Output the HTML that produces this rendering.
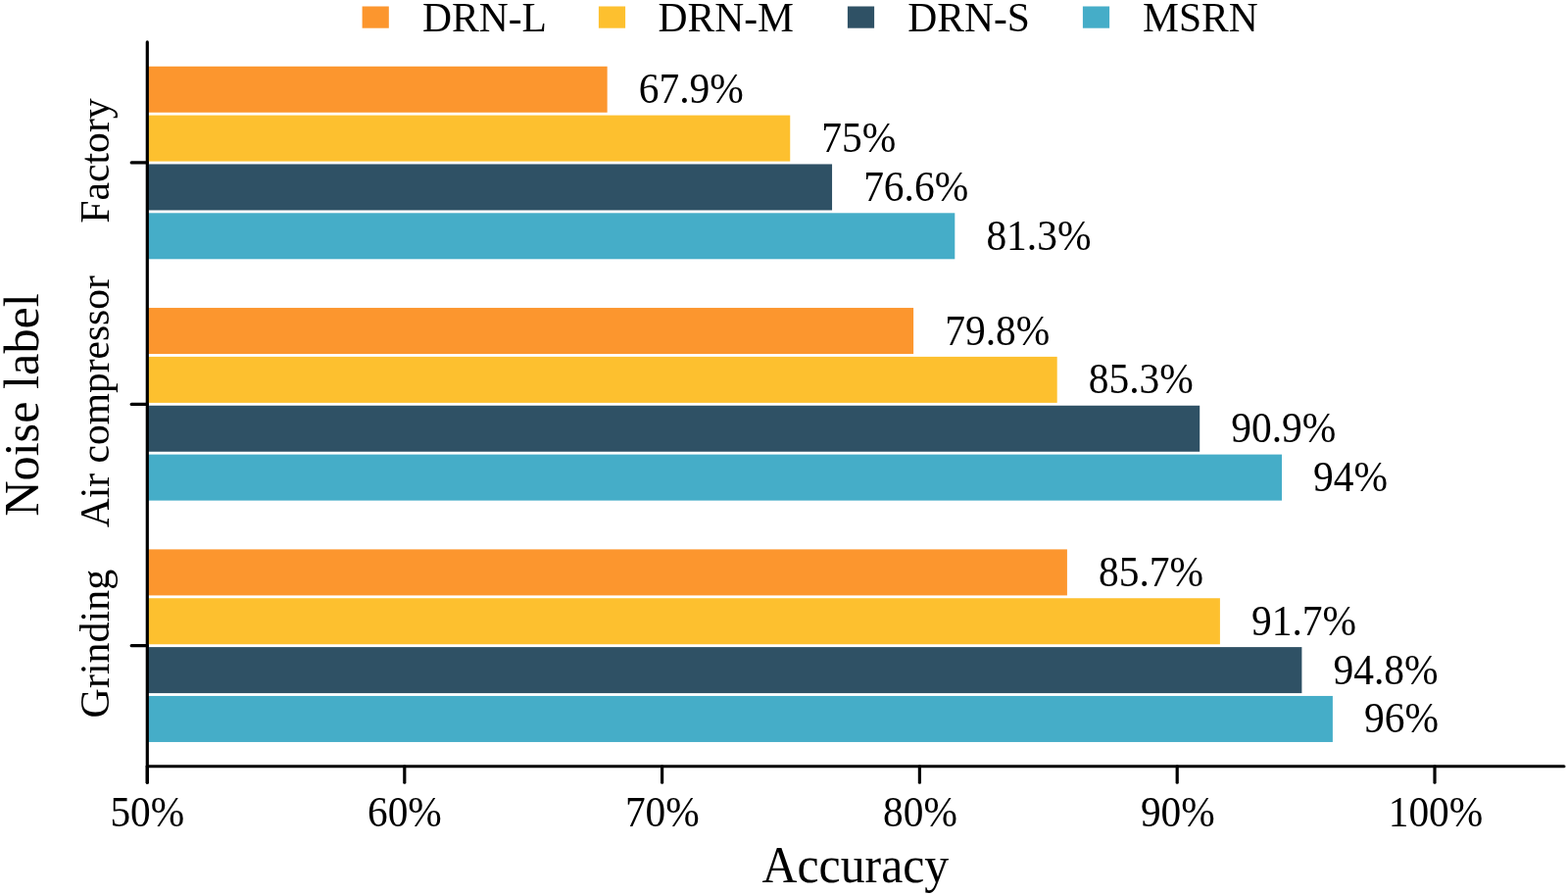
<!DOCTYPE html>
<html><head><meta charset="utf-8"><title>Accuracy by noise label</title>
<style>
html,body{margin:0;padding:0;background:#fff;}
body{width:1600px;height:913px;overflow:hidden;}
svg{display:block;}
text{font-family:"Liberation Serif","Times New Roman",serif;fill:#000;}
</style></head><body>
<svg width="1600" height="913" viewBox="0 0 1600 913">
<rect x="0" y="0" width="1600" height="913" fill="#fff"/>
<rect x="150.0" y="67.75" width="469.65" height="47.0" fill="#FC962E"/>
<text transform="translate(651.75,105.25) scale(0.987,1.05)" font-size="42">67.9%</text>
<rect x="150.0" y="117.60" width="656.25" height="47.0" fill="#FDC02F"/>
<text transform="translate(838.35,155.10) scale(0.987,1.05)" font-size="42">75%</text>
<rect x="150.0" y="167.45" width="699.05" height="47.0" fill="#2F5165"/>
<text transform="translate(881.15,204.95) scale(0.987,1.05)" font-size="42">76.6%</text>
<rect x="150.0" y="217.30" width="824.30" height="47.0" fill="#45ADC8"/>
<text transform="translate(1006.40,254.80) scale(0.987,1.05)" font-size="42">81.3%</text>
<rect x="150.0" y="314.05" width="782.10" height="47.0" fill="#FC962E"/>
<text transform="translate(964.20,351.55) scale(0.987,1.05)" font-size="42">79.8%</text>
<rect x="150.0" y="363.90" width="928.70" height="47.0" fill="#FDC02F"/>
<text transform="translate(1110.80,401.40) scale(0.987,1.05)" font-size="42">85.3%</text>
<rect x="150.0" y="413.75" width="1074.20" height="47.0" fill="#2F5165"/>
<text transform="translate(1256.30,451.25) scale(0.987,1.05)" font-size="42">90.9%</text>
<rect x="150.0" y="463.60" width="1158.00" height="47.0" fill="#45ADC8"/>
<text transform="translate(1340.10,501.10) scale(0.987,1.05)" font-size="42">94%</text>
<rect x="150.0" y="560.40" width="938.90" height="47.0" fill="#FC962E"/>
<text transform="translate(1121.00,597.90) scale(0.987,1.05)" font-size="42">85.7%</text>
<rect x="150.0" y="610.25" width="1094.90" height="47.0" fill="#FDC02F"/>
<text transform="translate(1277.00,647.75) scale(0.987,1.05)" font-size="42">91.7%</text>
<rect x="150.0" y="660.10" width="1178.40" height="47.0" fill="#2F5165"/>
<text transform="translate(1360.50,697.60) scale(0.987,1.05)" font-size="42">94.8%</text>
<rect x="150.0" y="709.95" width="1209.90" height="47.0" fill="#45ADC8"/>
<text transform="translate(1392.00,747.45) scale(0.987,1.05)" font-size="42">96%</text>
<line x1="150.3" y1="42.9" x2="150.3" y2="798.2" stroke="#000" stroke-width="3.2" stroke-linecap="round"/>
<line x1="150.3" y1="781.75" x2="1595.9" y2="781.75" stroke="#000" stroke-width="3.2" stroke-linecap="round"/>
<line x1="150.30" y1="781.75" x2="150.30" y2="798.2" stroke="#000" stroke-width="3.2" stroke-linecap="round"/>
<text transform="translate(150.30,843.0) scale(0.985,1.075)" font-size="42" text-anchor="middle">50%</text>
<line x1="412.80" y1="781.75" x2="412.80" y2="798.2" stroke="#000" stroke-width="3.2" stroke-linecap="round"/>
<text transform="translate(412.90,843.0) scale(0.985,1.075)" font-size="42" text-anchor="middle">60%</text>
<line x1="675.60" y1="781.75" x2="675.60" y2="798.2" stroke="#000" stroke-width="3.2" stroke-linecap="round"/>
<text transform="translate(675.80,843.0) scale(0.985,1.075)" font-size="42" text-anchor="middle">70%</text>
<line x1="938.40" y1="781.75" x2="938.40" y2="798.2" stroke="#000" stroke-width="3.2" stroke-linecap="round"/>
<text transform="translate(939.00,843.0) scale(0.985,1.075)" font-size="42" text-anchor="middle">80%</text>
<line x1="1201.20" y1="781.75" x2="1201.20" y2="798.2" stroke="#000" stroke-width="3.2" stroke-linecap="round"/>
<text transform="translate(1201.80,843.0) scale(0.985,1.075)" font-size="42" text-anchor="middle">90%</text>
<line x1="1464.00" y1="781.75" x2="1464.00" y2="798.2" stroke="#000" stroke-width="3.2" stroke-linecap="round"/>
<text transform="translate(1465.00,843.0) scale(0.985,1.075)" font-size="42" text-anchor="middle">100%</text>
<line x1="134.2" y1="165.90" x2="150.3" y2="165.90" stroke="#000" stroke-width="3.2" stroke-linecap="round"/>
<text transform="translate(111.2,164.05) rotate(-90)" font-size="41.7" text-anchor="middle">Factory</text>
<line x1="134.2" y1="412.40" x2="150.3" y2="412.40" stroke="#000" stroke-width="3.2" stroke-linecap="round"/>
<text transform="translate(111.2,409.70) rotate(-90)" font-size="41.5" text-anchor="middle">Air compressor</text>
<line x1="134.2" y1="658.70" x2="150.3" y2="658.70" stroke="#000" stroke-width="3.2" stroke-linecap="round"/>
<text transform="translate(111.2,656.60) rotate(-90)" font-size="42" text-anchor="middle">Grinding</text>
<text transform="translate(39.1,413.0) rotate(-90)" font-size="50.3" text-anchor="middle">Noise label</text>
<text transform="translate(872.9,900) scale(1,1.04)" font-size="49.8" text-anchor="middle">Accuracy</text>
<rect x="369.6" y="6.5" width="27.2" height="22.2" fill="#FC962E"/>
<text x="431" y="31.55" font-size="41.55">DRN-L</text>
<rect x="610.9" y="6.5" width="27.2" height="22.2" fill="#FDC02F"/>
<text x="671.5" y="31.55" font-size="41.55">DRN-M</text>
<rect x="864.9" y="6.5" width="27.2" height="22.2" fill="#2F5165"/>
<text x="926.3" y="31.55" font-size="41.55">DRN-S</text>
<rect x="1104.9" y="6.5" width="27.2" height="22.2" fill="#45ADC8"/>
<text x="1166" y="31.55" font-size="41.55">MSRN</text>
</svg></body></html>
